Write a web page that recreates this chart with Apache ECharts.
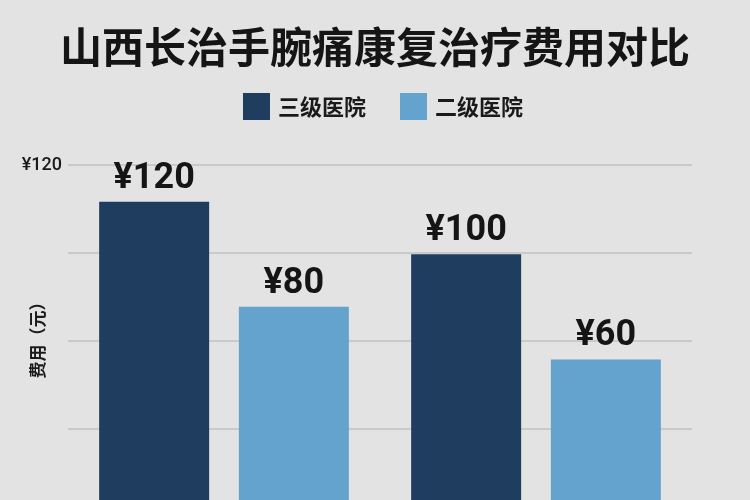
<!DOCTYPE html>
<html>
<head>
<meta charset="utf-8">
<script src="https://cdn.jsdelivr.net/npm/echarts@6/dist/echarts.min.js"></script>
<style>
html,body{margin:0;padding:0;background:#e3e3e3;}
#chart{width:750px;height:500px;}
</style>
</head>
<body>
<div id="chart"></div>
<script>
var titleText = '山西长治手腕痛康复治疗费用对比';
var categories = ['组一', '组二'];
var seriesNames = ['三级医院', '二级医院'];
var tertiaryValues = [120, 100];
var secondaryValues = [80, 60];
var tickLabels = { 120: '¥120' };
var axisName = '费用（元）';

var cjk = '"Noto Sans CJK SC", "Noto Sans", sans-serif';
var chart = echarts.init(document.getElementById('chart'));
chart.setOption({
  backgroundColor: '#e3e3e3',
  animation: false,
  title: {
    text: titleText,
    left: 'center',
    top: 21,
    textStyle: { fontFamily: cjk, fontSize: 42, fontWeight: 'bold', color: '#151515' }
  },
  legend: {
    data: seriesNames,
    left: 238,
    top: 88,
    itemWidth: 27,
    itemHeight: 27,
    itemGap: 34,
    icon: 'rect',
    textStyle: { fontFamily: cjk, fontSize: 22, fontWeight: 'bold', color: '#1a1a1a', padding: [0, 0, 0, 3] }
  },
  grid: { left: 68, right: 58, top: 165, bottom: -17, outerBoundsMode: 'none', containLabel: false },
  xAxis: {
    type: 'category',
    data: categories,
    axisLine: { show: false },
    axisTick: { show: false },
    axisLabel: { show: false }
  },
  yAxis: [
    {
      type: 'value',
      min: 0,
      max: 120,
      interval: 30,
      name: axisName,
      nameLocation: 'middle',
      nameGap: 22,
      nameMoveOverlap: false,
      nameRotate: 90,
      nameTextStyle: { fontFamily: cjk, fontSize: 17, fontWeight: 'bold', color: '#1a1a1a', padding: [0, 0, 0, 10] },
      axisLine: { show: false },
      axisTick: { show: false },
      axisLabel: {
        margin: 6,
        fontFamily: 'Roboto, Arial, sans-serif',
        fontSize: 18,
        fontWeight: 500,
        color: '#1a1a1a',
        formatter: function (v) { return tickLabels[v] || ''; }
      },
      splitLine: { lineStyle: { color: '#c9c9c9', width: 2 } }
    },
    {
      type: 'value',
      min: 0,
      max: 134,
      show: false,
      splitLine: { show: false }
    }
  ],
  series: [
    {
      name: seriesNames[0],
      type: 'bar',
      yAxisIndex: 1,
      data: tertiaryValues,
      barWidth: 110,
      barGap: '27%',
      itemStyle: { color: '#1f3d5f' },
      label: {
        show: true,
        position: 'top',
        distance: 5,
        formatter: '¥{c}',
        fontFamily: 'Roboto, Arial, sans-serif',
        fontSize: 36,
        fontWeight: 'bold',
        color: '#151515'
      }
    },
    {
      name: seriesNames[1],
      type: 'bar',
      yAxisIndex: 1,
      data: secondaryValues,
      barWidth: 110,
      itemStyle: { color: '#65a3cf' },
      label: {
        show: true,
        position: 'top',
        distance: 5,
        formatter: '¥{c}',
        fontFamily: 'Roboto, Arial, sans-serif',
        fontSize: 36,
        fontWeight: 'bold',
        color: '#151515'
      }
    }
  ]
});
</script>
</body>
</html>
